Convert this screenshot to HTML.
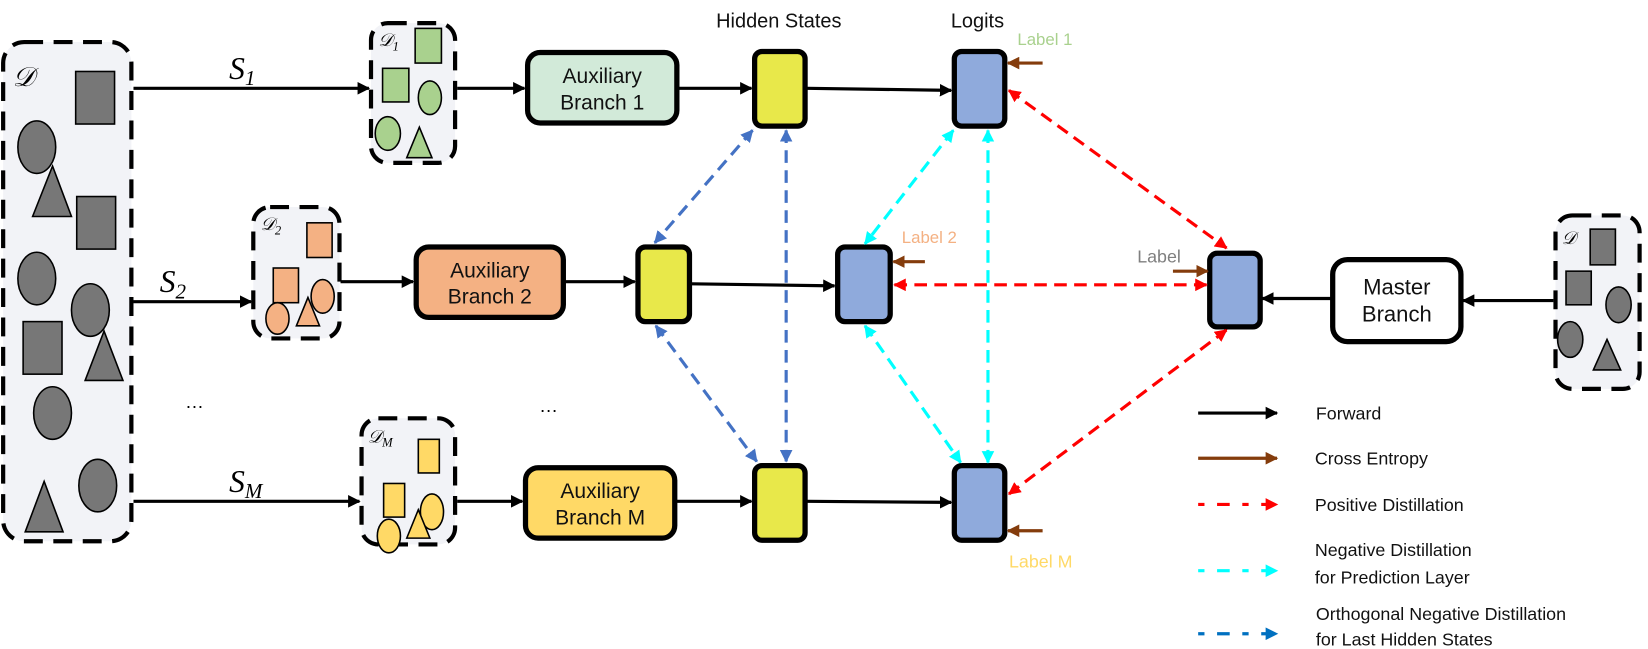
<!DOCTYPE html>
<html><head><meta charset="utf-8"><style>
html,body{margin:0;padding:0;background:#fff;}
svg{display:block;}
text{font-family:"Liberation Sans","DejaVu Sans",sans-serif;}
.m{font-family:"Liberation Serif",serif;font-style:italic;}
</style></head><body>
<svg width="1648" height="649" viewBox="0 0 1568 617.5" preserveAspectRatio="none" xmlns="http://www.w3.org/2000/svg">
<defs>
<marker id="ak" viewBox="0 0 10 10" refX="9" refY="5" markerWidth="4" markerHeight="4" orient="auto-start-reverse"><path d="M0,0L10,5L0,10z" fill="#000"/></marker>
<marker id="ab" viewBox="0 0 10 10" refX="9" refY="5" markerWidth="4" markerHeight="4" orient="auto-start-reverse"><path d="M0,0L10,5L0,10z" fill="#843c0c"/></marker>
<marker id="ar" viewBox="0 0 10 10" refX="9" refY="5" markerWidth="4" markerHeight="4" orient="auto-start-reverse"><path d="M0,0L10,5L0,10z" fill="#f00"/></marker>
<marker id="ac" viewBox="0 0 10 10" refX="9" refY="5" markerWidth="4" markerHeight="4" orient="auto-start-reverse"><path d="M0,0L10,5L0,10z" fill="#0ff"/></marker>
<marker id="abl" viewBox="0 0 10 10" refX="9" refY="5" markerWidth="4" markerHeight="4" orient="auto-start-reverse"><path d="M0,0L10,5L0,10z" fill="#4472c4"/></marker>
<marker id="abl2" viewBox="0 0 10 10" refX="9" refY="5" markerWidth="4" markerHeight="4" orient="auto-start-reverse"><path d="M0,0L10,5L0,10z" fill="#0070c0"/></marker>
</defs>

<g stroke="#000" stroke-width="4" stroke-dasharray="18,10" fill="#f2f3f7">
<rect x="3" y="40" width="122" height="475" rx="20"/>
<rect x="353" y="22" width="80" height="133" rx="16"/>
<rect x="241" y="197" width="82" height="125" rx="16"/>
<rect x="344" y="398" width="89" height="120" rx="16"/>
<rect x="1480" y="205" width="80" height="165" rx="16"/>
</g>
<text x="12" y="82" class="m" font-size="26">𝒟</text>
<text x="360" y="44" class="m" font-size="17">𝒟<tspan font-size="12" dy="4">1</tspan></text>
<text x="248" y="219" class="m" font-size="17">𝒟<tspan font-size="12" dy="4">2</tspan></text>
<text x="350" y="421" class="m" font-size="17">𝒟<tspan font-size="12" dy="4">M</tspan></text>
<text x="1486" y="232" class="m" font-size="17">𝒟</text>

<g fill="#777" stroke="#000" stroke-width="1.5">
<rect x="72" y="68" width="37" height="50"/>
<ellipse cx="35" cy="140" rx="18" ry="25"/>
<path d="M31,206L50,158L68,206z"/>
<rect x="73" y="187" width="37" height="50"/>
<ellipse cx="35" cy="265" rx="18" ry="25"/>
<ellipse cx="86" cy="295" rx="18" ry="25"/>
<rect x="22" y="306" width="37" height="50"/>
<path d="M81,362L99,315L117,362z"/>
<ellipse cx="50" cy="393" rx="18" ry="25"/>
<path d="M24,506L42,458L60,506z"/>
<ellipse cx="93" cy="462" rx="18" ry="25"/>
<rect x="1513" y="218" width="24" height="34"/>
<rect x="1490" y="258" width="24" height="32"/>
<ellipse cx="1540" cy="290" rx="12" ry="17"/>
<ellipse cx="1494" cy="323" rx="12" ry="17"/>
<path d="M1516,352L1529,323L1542,352z"/>
</g>
<g fill="#a9d18e" stroke="#000" stroke-width="1.5">
<rect x="395" y="27" width="25" height="33"/><rect x="364" y="65" width="25" height="32"/>
<ellipse cx="409" cy="93" rx="11" ry="16"/><ellipse cx="369" cy="127" rx="12" ry="16"/>
<path d="M387,150L399,121L411,150z"/>
</g>
<g fill="#f4b183" stroke="#000" stroke-width="1.5">
<rect x="292" y="212" width="24" height="33"/><rect x="260" y="255" width="24" height="33"/>
<ellipse cx="307" cy="282" rx="11" ry="16"/><ellipse cx="264" cy="303" rx="11" ry="15"/>
<path d="M282,310L293,283L304,310z"/>
</g>
<g fill="#ffd966" stroke="#000" stroke-width="1.5">
<rect x="398" y="418" width="20" height="32"/><rect x="365" y="460" width="20" height="32"/>
<ellipse cx="411" cy="487" rx="11" ry="17"/><ellipse cx="370" cy="510" rx="11" ry="16"/>
<path d="M387,512L398,485L409,512z"/>
</g>

<text x="218" y="75" class="m" font-size="30">S<tspan font-size="20" dy="6">1</tspan></text>
<text x="152" y="278" class="m" font-size="30">S<tspan font-size="20" dy="6">2</tspan></text>
<text x="218" y="468" class="m" font-size="30">S<tspan font-size="20" dy="6">M</tspan></text>
<text x="176" y="388" font-size="18">…</text>
<text x="513" y="392" font-size="18">…</text>

<g stroke="#000" stroke-width="3" fill="none" marker-end="url(#ak)">
<line x1="127" y1="84" x2="351" y2="84"/>
<line x1="127" y1="287" x2="239" y2="287"/>
<line x1="127" y1="477" x2="342" y2="477"/>
<line x1="435" y1="84" x2="499" y2="84"/>
<line x1="324" y1="268" x2="393" y2="268"/>
<line x1="435" y1="477" x2="497" y2="477"/>
<line x1="646" y1="84" x2="715" y2="84"/>
<line x1="538" y1="268" x2="604" y2="268"/>
<line x1="644" y1="477" x2="715" y2="477"/>
<line x1="768" y1="84" x2="905" y2="86"/>
<line x1="658" y1="270" x2="794" y2="272"/>
<line x1="768" y1="477" x2="905" y2="478"/>
<line x1="1266" y1="284" x2="1201" y2="284"/>
<line x1="1478" y1="286" x2="1392" y2="286"/>
</g>

<g stroke="#000" stroke-width="5">
<rect x="502" y="50" width="142" height="67" rx="12" fill="#d2ead9"/>
<rect x="396" y="235" width="140" height="67" rx="12" fill="#f4b183"/>
<rect x="500" y="445" width="142" height="67" rx="12" fill="#ffd966"/>
<rect x="1268" y="247" width="122" height="78" rx="14" fill="#fff"/>
<rect x="718" y="49" width="48" height="71" rx="7" fill="#e8e84a"/>
<rect x="607" y="235" width="49" height="71" rx="7" fill="#e8e84a"/>
<rect x="718" y="443" width="48" height="71" rx="7" fill="#e8e84a"/>
<rect x="908" y="49" width="48" height="71" rx="7" fill="#8faadc"/>
<rect x="797" y="235" width="50" height="71" rx="7" fill="#8faadc"/>
<rect x="908" y="443" width="48" height="71" rx="7" fill="#8faadc"/>
<rect x="1151" y="241" width="48" height="70" rx="7" fill="#8faadc"/>
</g>
<g font-size="20" text-anchor="middle" fill="#111">
<text x="573" y="79">Auxiliary</text><text x="573" y="104">Branch 1</text>
<text x="466" y="264">Auxiliary</text><text x="466" y="289">Branch 2</text>
<text x="571" y="474">Auxiliary</text><text x="571" y="499">Branch M</text>
<text x="1329" y="280" font-size="21">Master</text><text x="1329" y="306" font-size="21">Branch</text>
<text x="741" y="26" font-size="19">Hidden States</text>
<text x="930" y="26" font-size="19">Logits</text>
</g>
<text x="968" y="43" font-size="16" fill="#a9d18e">Label 1</text>
<text x="858" y="231" font-size="16" fill="#f4b183">Label 2</text>
<text x="1082" y="250" font-size="17" fill="#7f7f7f">Label</text>
<text x="960" y="540" font-size="17" fill="#ffd966">Label M</text>

<g stroke="#843c0c" stroke-width="3" marker-end="url(#ab)">
<line x1="992" y1="60" x2="959" y2="60"/>
<line x1="880" y1="249" x2="850" y2="249"/>
<line x1="1116" y1="258" x2="1149" y2="258"/>
<line x1="992" y1="505" x2="959" y2="505"/>
</g>

<g stroke="#4472c4" stroke-width="3" stroke-dasharray="12,7" marker-start="url(#abl)" marker-end="url(#abl)">
<line x1="716" y1="124" x2="623" y2="231"/>
<line x1="748" y1="124" x2="748" y2="439"/>
<line x1="624" y1="310" x2="720" y2="439"/>
</g>
<g stroke="#0ff" stroke-width="3" stroke-dasharray="12,7" marker-start="url(#ac)" marker-end="url(#ac)">
<line x1="907" y1="124" x2="823" y2="232"/>
<line x1="940" y1="124" x2="940" y2="440"/>
<line x1="823" y1="310" x2="914" y2="440"/>
</g>
<g stroke="#f00" stroke-width="3" stroke-dasharray="12,7" marker-start="url(#ar)" marker-end="url(#ar)">
<line x1="960" y1="86" x2="1167" y2="236"/>
<line x1="851" y1="271" x2="1148" y2="271"/>
<line x1="960" y1="470" x2="1167" y2="314"/>
</g>

<line x1="1140" y1="393" x2="1215" y2="393" stroke="#000" stroke-width="3" marker-end="url(#ak)"/>
<line x1="1140" y1="436" x2="1215" y2="436" stroke="#843c0c" stroke-width="3" marker-end="url(#ab)"/>
<line x1="1140" y1="480" x2="1215" y2="480" stroke="#f00" stroke-width="3" stroke-dasharray="6,12,12,12" marker-end="url(#ar)"/>
<line x1="1140" y1="543" x2="1215" y2="543" stroke="#0ff" stroke-width="3" stroke-dasharray="6,12,12,12" marker-end="url(#ac)"/>
<line x1="1140" y1="603" x2="1215" y2="603" stroke="#0070c0" stroke-width="3" stroke-dasharray="6,12,12,12" marker-end="url(#abl2)"/>
<g font-size="17" fill="#111">
<text x="1252" y="399">Forward</text>
<text x="1251" y="442">Cross Entropy</text>
<text x="1251" y="486">Positive Distillation</text>
<text x="1251" y="529">Negative  Distillation</text>
<text x="1251" y="555">for Prediction Layer</text>
<text x="1252" y="590">Orthogonal  Negative Distillation</text>
<text x="1252" y="614">for Last Hidden States</text>
</g>
</svg>
</body></html>
